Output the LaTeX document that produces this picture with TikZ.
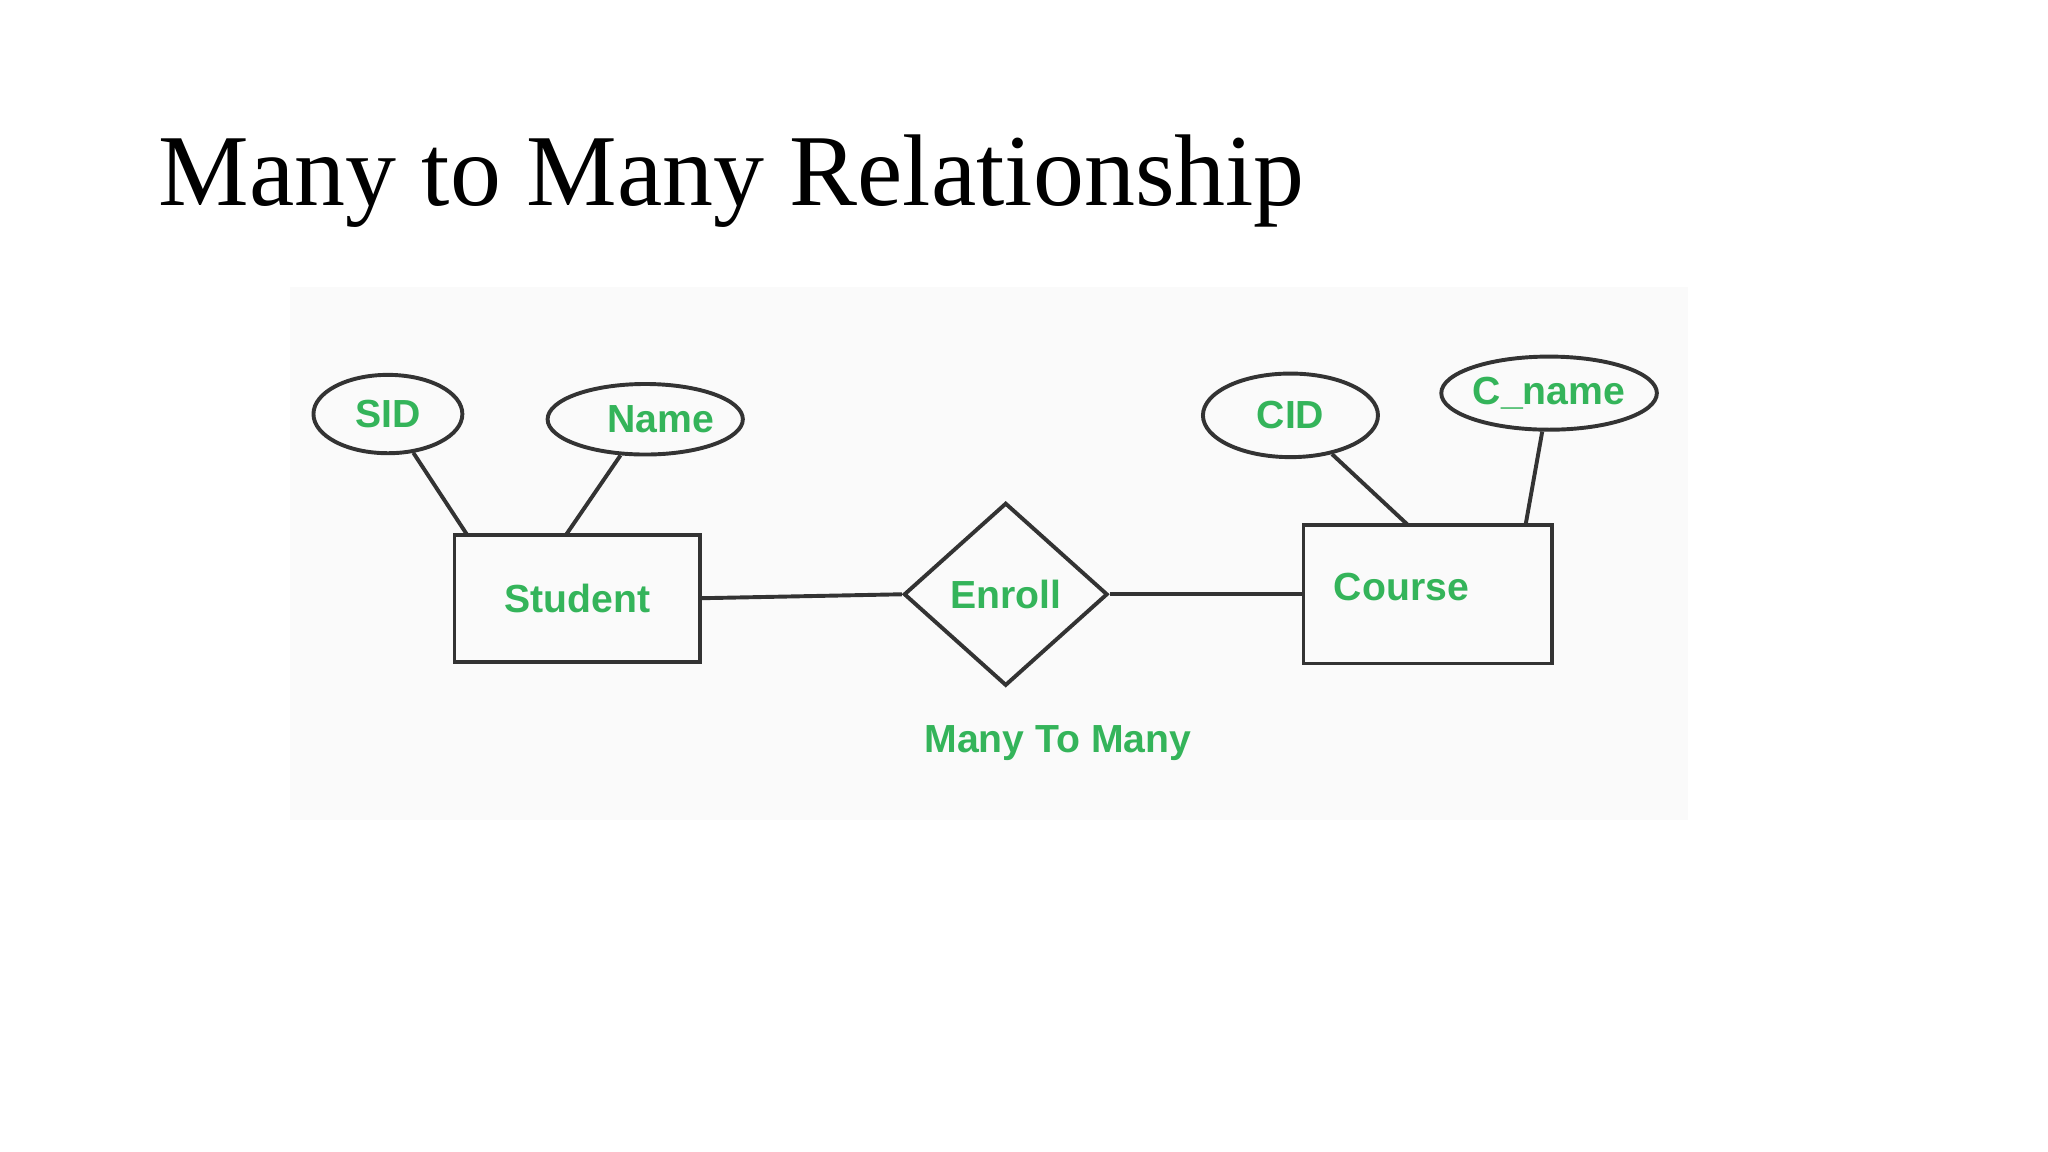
\documentclass[tikz,border=0pt]{standalone}
\usepackage{fontspec}
\setmainfont{Liberation Serif}
\setsansfont{Liberation Sans}
\usetikzlibrary{shapes.geometric}
\definecolor{ergreen}{RGB}{52,180,90}
\tikzset{
  lw/.style={line width=3pt, draw=black!80},
  lab/.style={text=ergreen, font=\sffamily\bfseries\fontsize{30}{30}\selectfont},
  attr/.style={lw, ellipse, inner sep=0pt, lab},
  ent/.style={lw, rectangle, inner sep=0pt, lab},
}
\begin{document}
\begin{tikzpicture}[x=1pt,y=-1pt]
\useasboundingbox (0,0) rectangle (1568,882);
\fill[white] (0,0) rectangle (1568,882);
\fill[black!2] (222,220) rectangle (1292,628);
\node[anchor=base west, font=\fontsize{78}{78}\selectfont] (title) at (118,157) {Many to Many Relationship};
\node[attr, minimum width=114, minimum height=60] (sid) at (297,317) {SID};
\node[attr, minimum width=126, minimum height=54] (name) at (494,321) {\hspace*{24pt}Name};
\node[attr, minimum width=134, minimum height=64] (cid) at (988,318) {CID};
\node[attr, minimum width=138, minimum height=56] (cname) at (1186,301) {C\_name};
\node[ent, minimum width=188, minimum height=97] (student) at (442,458) {Student};
\node[ent, minimum width=190, minimum height=106] (course) at (1093,455) {\raisebox{12pt}{Course}\hspace*{40pt}};
\node[lw, diamond, minimum width=156, minimum height=140, inner sep=0pt, lab] (enroll) at (770,455) {Enroll};
\node[lab] (mm) at (810,569) {Many To Many};
\coordinate (s1) at (358,410); \coordinate (s2) at (433,410);
\coordinate (c1) at (1078,402); \coordinate (c2) at (1168,402);
\draw[lw] (sid) -- (s1);
\draw[lw] (name) -- (s2);
\draw[lw] (cid) -- (c1);
\draw[lw] (cname) -- (c2);
\draw[lw] (student.east) -- (enroll.west);
\draw[lw] (enroll.east) -- (course.west);
\end{tikzpicture}
\end{document}
